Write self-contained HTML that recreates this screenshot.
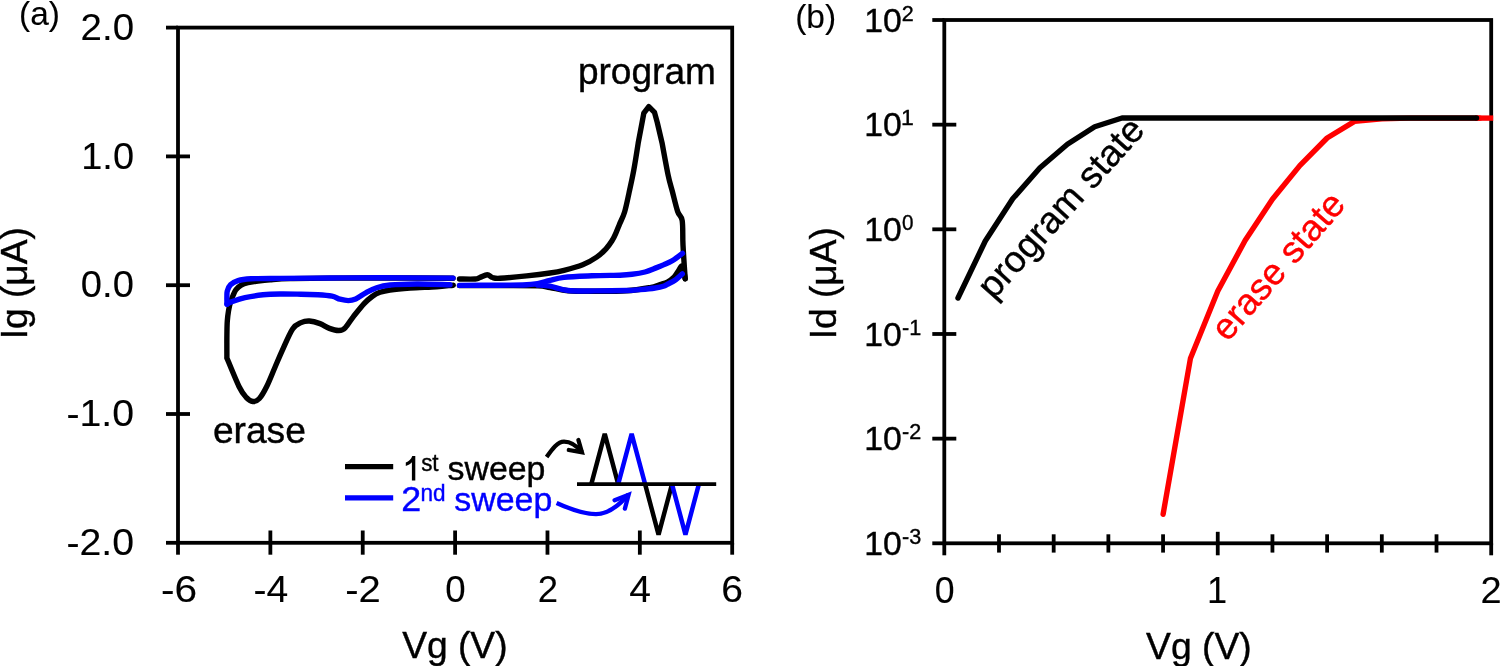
<!DOCTYPE html><html><head><meta charset="utf-8"><style>html,body{margin:0;padding:0;background:#fff;overflow:hidden}svg{display:block;will-change:transform}text{font-family:"Liberation Sans",sans-serif}</style></head><body>
<svg width="1500" height="666" viewBox="0 0 1500 666">
<rect width="1500" height="666" fill="#fff"/>
<g stroke="#000" stroke-width="3.8" fill="none">
<rect x="178.0" y="27.6" width="554.2" height="515.2"/>
<line x1="166.0" y1="27.60" x2="178.0" y2="27.60"/>
<line x1="166.0" y1="156.40" x2="190.0" y2="156.40"/>
<line x1="166.0" y1="285.20" x2="190.0" y2="285.20"/>
<line x1="166.0" y1="414.00" x2="190.0" y2="414.00"/>
<line x1="166.0" y1="542.80" x2="178.0" y2="542.80"/>
<line x1="178.00" y1="542.80" x2="178.00" y2="554.70"/>
<line x1="270.37" y1="530.50" x2="270.37" y2="554.70"/>
<line x1="362.73" y1="530.50" x2="362.73" y2="554.70"/>
<line x1="455.10" y1="530.50" x2="455.10" y2="554.70"/>
<line x1="547.47" y1="530.50" x2="547.47" y2="554.70"/>
<line x1="639.83" y1="530.50" x2="639.83" y2="554.70"/>
<line x1="732.20" y1="542.80" x2="732.20" y2="554.70"/>
<rect x="944.3" y="20.0" width="546.9" height="523.3"/>
<line x1="932.3" y1="20.00" x2="944.3" y2="20.00"/>
<line x1="932.3" y1="124.66" x2="956.3" y2="124.66"/>
<line x1="932.3" y1="229.32" x2="956.3" y2="229.32"/>
<line x1="932.3" y1="333.98" x2="956.3" y2="333.98"/>
<line x1="932.3" y1="438.64" x2="956.3" y2="438.64"/>
<line x1="932.3" y1="543.30" x2="944.3" y2="543.30"/>
<line x1="944.30" y1="543.30" x2="944.30" y2="555.30"/>
<line x1="998.99" y1="534.30" x2="998.99" y2="552.60"/>
<line x1="1053.68" y1="534.30" x2="1053.68" y2="552.60"/>
<line x1="1108.37" y1="534.30" x2="1108.37" y2="552.60"/>
<line x1="1163.06" y1="534.30" x2="1163.06" y2="552.60"/>
<line x1="1217.75" y1="531.80" x2="1217.75" y2="555.30"/>
<line x1="1272.44" y1="534.30" x2="1272.44" y2="552.60"/>
<line x1="1327.13" y1="534.30" x2="1327.13" y2="552.60"/>
<line x1="1381.82" y1="534.30" x2="1381.82" y2="552.60"/>
<line x1="1436.51" y1="534.30" x2="1436.51" y2="552.60"/>
<line x1="1491.20" y1="543.30" x2="1491.20" y2="555.30"/>
</g>
<g fill="none" stroke-width="5.4" stroke-linecap="round" stroke-linejoin="round">
<path stroke="#000" d="M453.0,278.2 C444.2,278.2 420.5,278.0 400.0,278.0 C379.5,278.0 348.3,278.0 330.0,278.1 C311.7,278.2 300.0,278.3 290.0,278.6 C280.0,278.9 275.3,279.4 270.0,279.8 C264.7,280.2 261.7,280.6 258.0,281.1 C254.3,281.6 250.8,282.0 248.0,282.7 C245.2,283.4 243.2,284.0 241.2,285.1 C239.2,286.2 237.4,287.8 236.0,289.6 C234.6,291.4 233.8,293.8 232.8,296.0 C231.8,298.2 230.9,300.5 230.2,303.0 C229.5,305.5 229.0,308.0 228.5,311.0 C228.0,314.0 227.6,317.0 227.3,321.0 C227.0,325.0 227.0,328.8 226.9,335.0 C226.8,341.2 226.9,354.2 226.9,358.0 M226.9,358.0 C228.9,362.8 235.8,379.9 239.0,386.5 C242.2,393.1 243.9,394.8 246.2,397.3 C248.5,399.8 250.6,401.3 252.8,401.5 C255.0,401.7 257.1,401.0 259.4,398.5 C261.7,396.0 264.1,391.7 266.7,386.5 C269.3,381.3 272.4,373.2 275.0,367.2 C277.6,361.2 279.4,356.8 282.3,350.4 C285.2,344.0 289.5,333.5 292.6,328.9 C295.7,324.3 298.2,323.9 301.0,322.6 C303.8,321.3 306.2,320.8 309.4,321.0 C312.6,321.2 316.7,322.4 320.0,323.6 C323.3,324.8 326.2,327.2 329.4,328.4 C332.5,329.5 336.3,330.6 338.9,330.5 C341.5,330.4 342.8,330.2 345.2,327.8 C347.6,325.4 350.5,320.3 353.6,316.3 C356.8,312.3 361.0,307.0 364.1,303.6 C367.2,300.2 369.9,298.1 372.5,296.2 C375.1,294.3 377.1,293.3 380.0,292.3 C382.9,291.3 385.0,290.7 390.0,290.0 C395.0,289.3 402.2,288.6 410.0,288.0 C417.8,287.4 429.5,287.2 436.7,286.7 C443.9,286.2 450.5,285.4 453.3,285.2"/>
<path stroke="#000" d="M459.5,279.0 C462.1,279.0 471.9,279.2 475.3,279.0 C478.7,278.8 477.8,278.2 479.8,277.5 C481.8,276.8 485.2,274.7 487.3,274.7 C489.4,274.7 490.4,276.9 492.5,277.5 C494.6,278.1 494.3,278.6 500.0,278.3 C505.7,278.0 518.4,276.8 526.7,275.9 C535.0,275.0 543.8,273.9 550.0,273.0 C556.2,272.1 558.5,271.7 564.0,270.3 C569.5,268.9 577.2,266.9 582.7,264.7 C588.2,262.5 592.8,259.8 596.7,257.1 C600.6,254.5 603.5,251.5 606.0,248.8 C608.5,246.1 610.3,243.5 612.0,240.8 C613.7,238.1 614.8,235.5 616.0,232.8 C617.2,230.1 618.0,228.0 619.4,224.5 C620.8,221.0 623.0,217.3 624.6,212.0 C626.2,206.7 627.6,199.5 629.1,192.5 C630.6,185.5 632.3,178.2 633.8,170.0 C635.3,161.8 637.5,147.6 638.2,143.1 L638.2,143.1 L641.8,124.0 L643.8,113.2 L648.8,106.6 L654.5,112.4 L657.3,122.6 L662.1,143.1 L662.1,143.1 C663.1,148.4 666.4,166.8 668.1,175.0 C669.8,183.2 670.9,185.9 672.5,192.0 C674.1,198.1 676.1,206.8 677.7,211.6 C679.3,216.4 681.3,215.0 682.2,220.6 C683.1,226.2 682.5,235.3 683.0,245.0 C683.5,254.7 684.8,273.2 685.2,278.8"/>
<path stroke="#000" d="M685.2,278.8 C684.7,276.7 683.5,267.4 682.3,266.2 C681.1,265.0 679.5,269.6 678.1,271.4 C676.7,273.2 675.8,275.4 674.0,277.2 C672.2,279.0 669.7,280.9 667.4,282.1 C665.1,283.3 662.9,283.7 660.0,284.6 C657.1,285.5 655.6,286.6 650.0,287.6 C644.4,288.6 635.8,290.2 626.6,290.8 C617.4,291.4 604.8,291.3 595.0,291.3 C585.2,291.3 575.5,291.4 568.0,290.8 C560.5,290.2 555.1,288.3 550.0,287.5 C544.9,286.7 545.9,286.1 537.6,285.8 C529.3,285.5 513.0,285.6 500.0,285.6 C487.0,285.6 466.2,285.6 459.5,285.6"/>
<path stroke="#0000ff" d="M453.0,278.1 C440.8,278.1 400.5,277.8 380.0,277.8 C359.5,277.8 346.7,277.9 330.0,278.0 C313.3,278.1 293.2,278.3 280.0,278.4 C266.8,278.5 258.0,278.4 251.0,278.8 C244.0,279.2 241.4,279.6 238.0,280.6 C234.6,281.6 232.3,283.0 230.5,284.7 C228.7,286.4 227.9,288.9 227.3,291.0 C226.7,293.1 227.0,294.8 226.9,297.0 C226.8,299.2 227.0,303.1 227.0,304.3"/>
<path stroke="#0000ff" d="M227.0,304.0 C227.8,303.6 229.0,302.7 232.0,301.6 C235.0,300.5 239.8,298.7 245.0,297.6 C250.2,296.5 257.2,295.4 263.0,294.8 C268.8,294.2 273.7,294.1 280.0,294.0 C286.3,293.9 294.7,294.1 301.0,294.2 C307.3,294.3 312.8,294.5 318.0,294.8 C323.2,295.1 328.3,295.5 332.0,296.2 C335.7,296.9 337.3,298.5 340.0,299.2 C342.7,299.9 345.7,300.6 348.3,300.6 C350.9,300.6 352.7,300.3 355.7,299.0 C358.7,297.7 362.7,294.5 366.2,292.6 C369.7,290.7 372.7,289.0 376.7,287.7 C380.7,286.4 383.3,285.6 390.0,285.0 C396.7,284.4 406.7,284.1 416.7,284.0 C426.7,283.9 444.4,284.6 450.0,284.7"/>
<path stroke="#0000ff" d="M459.5,285.4 C466.2,285.4 489.5,285.3 500.0,285.2 C510.5,285.1 516.3,285.2 522.6,285.0 C528.9,284.8 533.0,284.5 537.6,283.7 C542.2,282.9 545.6,281.4 550.0,280.4 C554.4,279.3 557.0,278.2 564.0,277.4 C571.0,276.6 582.7,276.2 592.0,275.8 C601.3,275.4 613.3,275.4 620.0,275.2 C626.7,274.9 627.8,274.8 632.0,274.3 C636.2,273.8 640.9,273.1 645.0,272.0 C649.1,270.9 653.5,268.8 656.7,267.6 C659.9,266.4 661.5,265.7 664.0,264.6 C666.5,263.5 669.3,262.4 671.5,261.2 C673.7,260.0 675.2,258.8 677.0,257.5 C678.8,256.2 681.6,254.0 682.5,253.3"/>
<path stroke="#0000ff" d="M682.3,273.9 C681.2,274.9 678.1,278.0 675.7,279.7 C673.3,281.4 670.1,282.9 668.0,284.0 C665.9,285.1 665.5,285.6 663.3,286.3 C661.1,287.0 658.9,287.4 655.0,288.0 C651.1,288.6 644.7,289.2 640.0,289.6 C635.3,290.0 634.1,290.3 626.6,290.5 C619.1,290.7 604.8,290.9 595.0,290.9 C585.2,290.9 575.5,291.3 568.0,290.5 C560.5,289.7 555.1,287.1 550.0,286.2 C544.9,285.3 539.7,285.2 537.6,285.0"/>
</g>
<path fill="none" stroke="#ff0000" stroke-width="5.4" stroke-linejoin="round" stroke-linecap="round" d="M1163.1,514.3 L1190.4,358.6 L1217.8,291.0 L1245.1,240.5 L1272.4,199.2 L1299.8,165.6 L1327.1,138.0 L1354.5,121.4 L1381.8,118.7 L1409.2,118.1 L1480.0,118.1"/>
<line x1="1475" y1="118.1" x2="1493.2" y2="118.1" stroke="#ff0000" stroke-width="5.4"/>
<path fill="none" stroke="#000" stroke-width="5.4" stroke-linejoin="round" stroke-linecap="round" d="M958.0,298.0 L985.3,241.0 L1012.7,198.8 L1040.0,167.8 L1067.4,144.2 L1094.7,126.8 L1122.0,118.0 L1476.5,118.0"/>
<g fill="none" stroke-width="4.5" stroke-linejoin="bevel" stroke-linecap="butt">
<path stroke="#000" d="M591.3,484.2 L604.75,433.9 L618.1999999999999,484.2"/>
<path stroke="#0000ff" d="M618.1999999999999,484.2 L631.65,433.9 L645.0999999999999,484.2"/>
<path stroke="#000" d="M645.0999999999999,484.2 L658.55,534.6 L672.0,484.2"/>
<path stroke="#0000ff" d="M672.0,484.2 L685.4499999999999,534.6 L698.9,484.2"/>
</g>
<line x1="577" y1="484.2" x2="716.2" y2="484.2" stroke="#000" stroke-width="3.8"/>
<g fill="none" stroke-width="4.3" stroke-linecap="round" stroke-linejoin="round">
<path stroke="#000" stroke-linecap="butt" d="M546.6,457 C552.3,449 557.5,441.6 564,441.6 C571,441.6 577,446 582,452.2"/>
<path stroke="#000" stroke-linejoin="miter" stroke-miterlimit="8" d="M578.4,440 L581.9,452.2 L568.8,450"/>
<path stroke="#0000ff" stroke-linecap="butt" d="M556.6,503 C571,509.5 584,514.2 596,514.2 C608,514.2 619,505.5 628.5,494.5"/>
<path stroke="#0000ff" stroke-linejoin="miter" stroke-miterlimit="8" d="M614.6,500.2 L628.6,494.8 L624.9,508.6"/>
</g>
<line x1="345" y1="466.6" x2="393.2" y2="466.6" stroke="#000" stroke-width="5.2"/>
<line x1="345" y1="497.9" x2="393.2" y2="497.9" stroke="#0000ff" stroke-width="5.2"/>
<text transform="translate(18.99,24.60) scale(1.0138,1)" font-size="33.0" fill="#000" stroke="#000" stroke-width="0.1" >(a)</text>
<text transform="translate(80.58,39.90) scale(1.0684,1)" font-size="36.0" fill="#000" stroke="#000" stroke-width="0.1" >2.0</text>
<text transform="translate(81.26,168.70) scale(1.0542,1)" font-size="36.0" fill="#000" stroke="#000" stroke-width="0.1" >1.0</text>
<text transform="translate(80.87,297.40) scale(1.0602,1)" font-size="36.0" fill="#000" stroke="#000" stroke-width="0.1" >0.0</text>
<text transform="translate(66.43,426.40) scale(1.0908,1)" font-size="36.0" fill="#000" stroke="#000" stroke-width="0.1" >-1.0</text>
<text transform="translate(66.43,555.20) scale(1.0908,1)" font-size="36.0" fill="#000" stroke="#000" stroke-width="0.1" >-2.0</text>
<text transform="translate(160.88,602.10) scale(1.1130,1)" font-size="36.5" fill="#000" stroke="#000" stroke-width="0.1" >-6</text>
<text transform="translate(253.44,602.10) scale(1.0692,1)" font-size="36.5" fill="#000" stroke="#000" stroke-width="0.1" >-4</text>
<text transform="translate(345.20,602.10) scale(1.0959,1)" font-size="36.5" fill="#000" stroke="#000" stroke-width="0.1" >-2</text>
<text transform="translate(445.33,602.10) scale(1.0046,1)" font-size="36.5" fill="#000" stroke="#000" stroke-width="0.1" >0</text>
<text transform="translate(537.77,602.10) scale(1.0006,1)" font-size="36.5" fill="#000" stroke="#000" stroke-width="0.1" >2</text>
<text transform="translate(629.26,602.10) scale(1.0700,1)" font-size="36.5" fill="#000" stroke="#000" stroke-width="0.1" >4</text>
<text transform="translate(721.26,602.10) scale(1.0700,1)" font-size="36.5" fill="#000" stroke="#000" stroke-width="0.1" >6</text>
<text transform="translate(402.13,658.30) scale(0.9896,1)" font-size="37.6" fill="#000" stroke="#000" stroke-width="0.4" >Vg (V)</text>
<text transform="translate(26.90,339.34) rotate(-90) scale(0.9922,1)" font-size="37.4" fill="#000" stroke="#000" stroke-width="0.4" >Ig (μA)</text>
<text transform="translate(577.91,83.80) scale(1.0013,1)" font-size="37.0" fill="#000" stroke="#000" stroke-width="0.4" >program</text>
<text transform="translate(212.91,443.10) scale(1.0150,1)" font-size="36.6" fill="#000" stroke="#000" stroke-width="0.4" >erase</text>
<text transform="translate(421.13,471.00) scale(0.9546,1)" font-size="23.5" fill="#000" stroke="#000" stroke-width="0.4" >st</text>
<text transform="translate(447.48,480.30)" font-size="33.9" fill="#000" stroke="#000" stroke-width="0.4" >sweep</text>
<text transform="translate(401.21,510.70) scale(1.0161,1)" font-size="35.3" fill="#0000ff" stroke="#0000ff" stroke-width="0.4" >2</text>
<text transform="translate(420.52,500.60) scale(0.9805,1)" font-size="23.0" fill="#0000ff" stroke="#0000ff" stroke-width="0.4" >nd</text>
<text transform="translate(454.28,510.70) scale(1.0011,1)" font-size="33.9" fill="#0000ff" stroke="#0000ff" stroke-width="0.4" >sweep</text>
<text transform="translate(795.19,27.80) scale(1.0044,1)" font-size="33.4" fill="#000" stroke="#000" stroke-width="0.1" >(b)</text>
<text transform="translate(934.78,603.00) scale(0.9841,1)" font-size="36.2" fill="#000" stroke="#000" stroke-width="0.1" >0</text>
<text transform="translate(1207.12,603.00)" font-size="36.2" fill="#000" stroke="#000" stroke-width="0.1" >1</text>
<text transform="translate(1480.56,603.00) scale(1.0500,1)" font-size="36.2" fill="#000" stroke="#000" stroke-width="0.1" >2</text>
<text transform="translate(1146.03,658.50) scale(0.9916,1)" font-size="37.6" fill="#000" stroke="#000" stroke-width="0.4" >Vg (V)</text>
<text transform="translate(836.40,339.34) rotate(-90) scale(0.9931,1)" font-size="37.4" fill="#000" stroke="#000" stroke-width="0.4" >Id (μA)</text>
<text transform="translate(864.20,31.80) scale(0.9981,1)" font-size="33.8" fill="#000" stroke="#000" stroke-width="0.4" >10</text>
<text transform="translate(901.82,20.60) scale(0.9565,1)" font-size="22.5" fill="#000" stroke="#000" stroke-width="0.4" >2</text>
<text transform="translate(864.20,136.46) scale(0.9981,1)" font-size="33.8" fill="#000" stroke="#000" stroke-width="0.4" >10</text>
<text transform="translate(901.06,125.26) scale(1.0233,1)" font-size="22.5" fill="#000" stroke="#000" stroke-width="0.4" >1</text>
<text transform="translate(864.20,241.12) scale(0.9981,1)" font-size="33.8" fill="#000" stroke="#000" stroke-width="0.4" >10</text>
<text transform="translate(902.08,229.92) scale(0.9167,1)" font-size="22.5" fill="#000" stroke="#000" stroke-width="0.4" >0</text>
<text transform="translate(864.20,345.78) scale(0.9981,1)" font-size="33.8" fill="#000" stroke="#000" stroke-width="0.4" >10</text>
<text transform="translate(902.04,334.58) scale(0.9611,1)" font-size="22.5" fill="#000" stroke="#000" stroke-width="0.4" >-1</text>
<text transform="translate(864.20,450.44) scale(0.9981,1)" font-size="33.8" fill="#000" stroke="#000" stroke-width="0.4" >10</text>
<text transform="translate(902.04,439.24) scale(0.9611,1)" font-size="22.5" fill="#000" stroke="#000" stroke-width="0.4" >-2</text>
<text transform="translate(864.20,555.10) scale(0.9981,1)" font-size="33.8" fill="#000" stroke="#000" stroke-width="0.4" >10</text>
<text transform="translate(902.04,543.90) scale(0.9611,1)" font-size="22.5" fill="#000" stroke="#000" stroke-width="0.4" >-3</text>
<text transform="translate(993.60,300.80) rotate(-48.0)" font-size="37.0" fill="#000" stroke="#000" stroke-width="0.4" >program state</text>
<text transform="translate(1227.60,342.80) rotate(-49.0)" font-size="36.8" fill="#ff0000" stroke="#ff0000" stroke-width="0.4" >erase state</text>
<path fill="#000" d="M415.3,455.9 L412.3,455.9 C411.2,459 408.8,461.4 405.8,462.6 L405.8,466 C408.2,465.2 410.4,463.8 411.9,462.2 L411.9,480.4 L415.3,480.4 Z"/>
</svg></body></html>
